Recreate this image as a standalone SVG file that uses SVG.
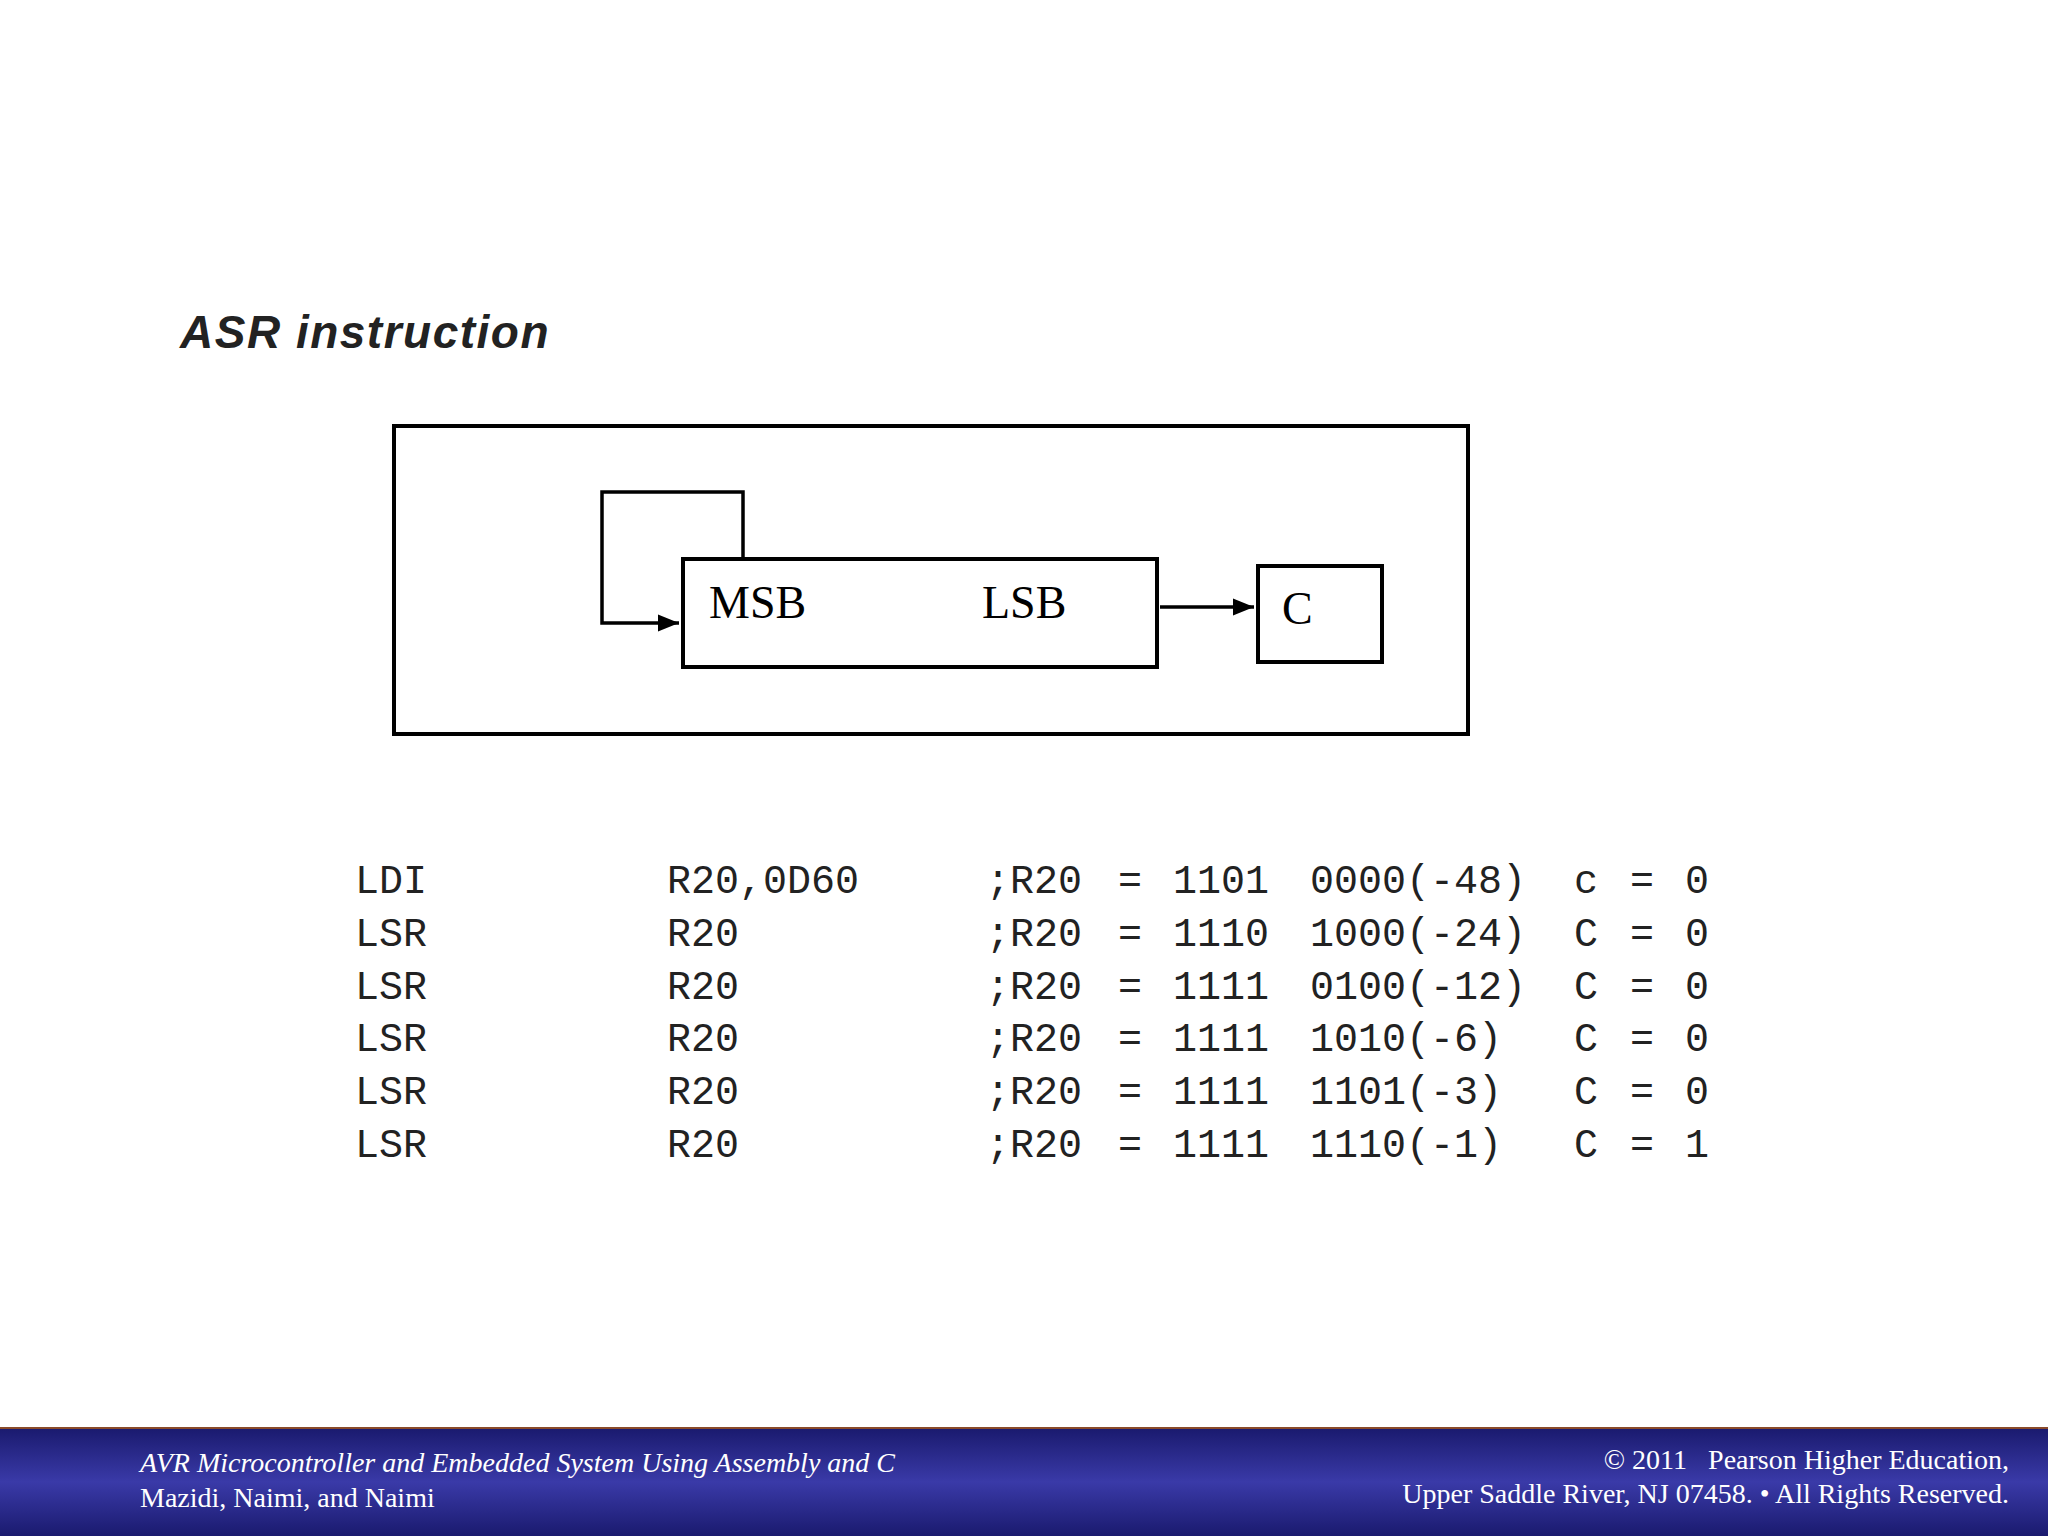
<svg xmlns="http://www.w3.org/2000/svg" width="2048" height="1536" viewBox="0 0 2048 1536">
<defs>
<linearGradient id="ft" x1="0" y1="0" x2="0" y2="1"><stop offset="0" stop-color="#1a1a6e"/><stop offset="0.5" stop-color="#3a3aa8"/><stop offset="1" stop-color="#1a1a6e"/></linearGradient>
<marker id="ah" viewBox="0 0 10 10" refX="10" refY="5" markerWidth="9" markerHeight="6" orient="auto" markerUnits="strokeWidth"><path d="M0,1 L10,5 L0,9 z" fill="#000"/></marker>
<style>
.box{fill:none;stroke:#000;stroke-width:4}
.ln{fill:none;stroke:#000;stroke-width:3.5}
.rt{font-family:"Liberation Serif",serif;font-size:46px}
.cd{font-family:"Liberation Mono",monospace;font-size:40px;fill:#222}
.ft{font-family:"Liberation Serif",serif;font-size:28px;fill:#fff}
</style>
</defs>
<rect width="2048" height="1536" fill="#fff"/>
<text x="180" y="348" font-family="Liberation Sans,sans-serif" font-size="46" font-weight="bold" font-style="italic" letter-spacing="1.5" fill="#222">ASR instruction</text>
<g id="outer"><rect class="box" x="394" y="426" width="1074" height="308"/></g>
<g id="register"><rect class="box" x="683" y="559" width="474" height="108"/><text class="rt" x="709" y="618">MSB</text><text class="rt" x="982" y="618">LSB</text></g>
<g id="carry"><rect class="box" x="1258" y="566" width="124" height="96"/><text class="rt" x="1282" y="624">C</text></g>
<g id="connectors">
<path class="ln" d="M1160,607 L1254,607" marker-end="url(#ah)"/>
<path class="ln" d="M743,559 L743,492 L602,492 L602,623 L679,623" marker-end="url(#ah)"/>
</g>
<g id="code" class="cd">
<text y="893"><tspan x="355">LDI</tspan><tspan x="667">R20,0D60</tspan><tspan x="986">;R20</tspan><tspan x="1118">=</tspan><tspan x="1173">1101</tspan><tspan x="1310">0000(-48)</tspan><tspan x="1574">c</tspan><tspan x="1630">=</tspan><tspan x="1685">0</tspan></text>
<text y="946"><tspan x="355">LSR</tspan><tspan x="667">R20</tspan><tspan x="986">;R20</tspan><tspan x="1118">=</tspan><tspan x="1173">1110</tspan><tspan x="1310">1000(-24)</tspan><tspan x="1574">C</tspan><tspan x="1630">=</tspan><tspan x="1685">0</tspan></text>
<text y="999"><tspan x="355">LSR</tspan><tspan x="667">R20</tspan><tspan x="986">;R20</tspan><tspan x="1118">=</tspan><tspan x="1173">1111</tspan><tspan x="1310">0100(-12)</tspan><tspan x="1574">C</tspan><tspan x="1630">=</tspan><tspan x="1685">0</tspan></text>
<text y="1051"><tspan x="355">LSR</tspan><tspan x="667">R20</tspan><tspan x="986">;R20</tspan><tspan x="1118">=</tspan><tspan x="1173">1111</tspan><tspan x="1310">1010(-6)</tspan><tspan x="1574">C</tspan><tspan x="1630">=</tspan><tspan x="1685">0</tspan></text>
<text y="1104"><tspan x="355">LSR</tspan><tspan x="667">R20</tspan><tspan x="986">;R20</tspan><tspan x="1118">=</tspan><tspan x="1173">1111</tspan><tspan x="1310">1101(-3)</tspan><tspan x="1574">C</tspan><tspan x="1630">=</tspan><tspan x="1685">0</tspan></text>
<text y="1157"><tspan x="355">LSR</tspan><tspan x="667">R20</tspan><tspan x="986">;R20</tspan><tspan x="1118">=</tspan><tspan x="1173">1111</tspan><tspan x="1310">1110(-1)</tspan><tspan x="1574">C</tspan><tspan x="1630">=</tspan><tspan x="1685">1</tspan></text>
</g>
<g id="footer">
<rect x="0" y="1428" width="2048" height="108" fill="url(#ft)"/>
<line x1="0" y1="1428" x2="2048" y2="1428" stroke="#8a4a2a" stroke-width="2"/>
<text class="ft" x="140" y="1472" font-style="italic">AVR Microcontroller and Embedded System Using Assembly and C</text>
<text class="ft" x="140" y="1507">Mazidi, Naimi, and Naimi</text>
<text class="ft" x="2009" y="1469" text-anchor="end" xml:space="preserve">© 2011   Pearson Higher Education,</text>
<text class="ft" x="2009" y="1503" text-anchor="end">Upper Saddle River, NJ 07458. • All Rights Reserved.</text>
</g>
</svg>
